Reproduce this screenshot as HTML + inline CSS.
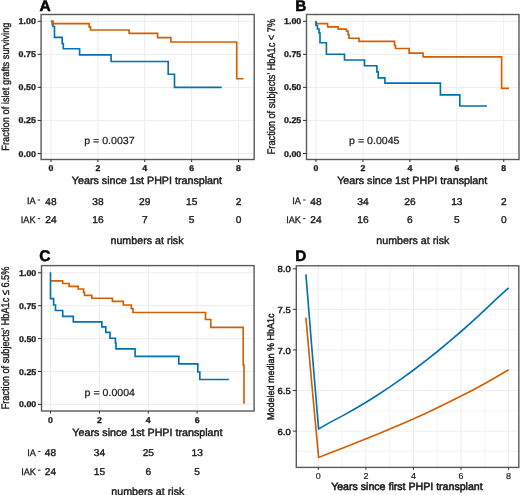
<!DOCTYPE html>
<html><head><meta charset="utf-8"><style>
html,body{margin:0;padding:0;background:#fff;}
svg{display:block;font-family:"Liberation Sans", sans-serif;filter:blur(0.15px);text-rendering:geometricPrecision;}
</style></head><body>
<svg width="520" height="495" viewBox="0 0 520 495">
<rect width="520" height="495" fill="#fff"/>
<rect x="41.1" y="14.5" width="213.1" height="145.0" fill="#fff"/>
<line x1="51.00" y1="14.50" x2="51.00" y2="159.50" stroke="#ededed" stroke-width="1.0"/>
<line x1="97.88" y1="14.50" x2="97.88" y2="159.50" stroke="#ededed" stroke-width="1.0"/>
<line x1="144.76" y1="14.50" x2="144.76" y2="159.50" stroke="#ededed" stroke-width="1.0"/>
<line x1="191.64" y1="14.50" x2="191.64" y2="159.50" stroke="#ededed" stroke-width="1.0"/>
<line x1="238.52" y1="14.50" x2="238.52" y2="159.50" stroke="#ededed" stroke-width="1.0"/>
<line x1="41.10" y1="153.50" x2="254.20" y2="153.50" stroke="#ededed" stroke-width="1.0"/>
<line x1="41.10" y1="120.45" x2="254.20" y2="120.45" stroke="#ededed" stroke-width="1.0"/>
<line x1="41.10" y1="87.40" x2="254.20" y2="87.40" stroke="#ededed" stroke-width="1.0"/>
<line x1="41.10" y1="54.35" x2="254.20" y2="54.35" stroke="#ededed" stroke-width="1.0"/>
<line x1="41.10" y1="21.30" x2="254.20" y2="21.30" stroke="#ededed" stroke-width="1.0"/>
<polyline points="50.90,21.30 52.30,21.30 52.30,24.50 53.00,24.50 53.00,26.50 54.50,26.50 54.50,37.30 62.20,37.30 62.20,43.60 63.30,43.60 63.30,48.70 79.60,48.70 79.60,54.90 111.10,54.90 111.10,61.50 168.20,61.50 168.20,74.20 174.50,74.20 174.50,87.30 221.80,87.30" fill="none" stroke="#0072B2" stroke-width="1.65" stroke-linejoin="miter" stroke-linecap="butt"/>
<polyline points="50.90,21.30 53.10,21.30 53.10,23.60 89.10,23.60 89.10,26.90 90.50,26.90 90.50,30.00 129.10,30.00 129.10,33.30 157.60,33.30 157.60,37.60 170.90,37.60 170.90,42.00 236.70,42.00 236.70,78.70 243.60,78.70" fill="none" stroke="#D55E00" stroke-width="1.65" stroke-linejoin="miter" stroke-linecap="butt"/>
<rect x="41.1" y="14.5" width="213.1" height="145.0" fill="none" stroke="#5a5a5a" stroke-width="1.4"/>
<rect x="306.5" y="14.5" width="212.5" height="145.0" fill="#fff"/>
<line x1="316.00" y1="14.50" x2="316.00" y2="159.50" stroke="#ededed" stroke-width="1.0"/>
<line x1="362.94" y1="14.50" x2="362.94" y2="159.50" stroke="#ededed" stroke-width="1.0"/>
<line x1="409.88" y1="14.50" x2="409.88" y2="159.50" stroke="#ededed" stroke-width="1.0"/>
<line x1="456.82" y1="14.50" x2="456.82" y2="159.50" stroke="#ededed" stroke-width="1.0"/>
<line x1="503.76" y1="14.50" x2="503.76" y2="159.50" stroke="#ededed" stroke-width="1.0"/>
<line x1="306.50" y1="153.50" x2="519.00" y2="153.50" stroke="#ededed" stroke-width="1.0"/>
<line x1="306.50" y1="120.45" x2="519.00" y2="120.45" stroke="#ededed" stroke-width="1.0"/>
<line x1="306.50" y1="87.40" x2="519.00" y2="87.40" stroke="#ededed" stroke-width="1.0"/>
<line x1="306.50" y1="54.35" x2="519.00" y2="54.35" stroke="#ededed" stroke-width="1.0"/>
<line x1="306.50" y1="21.30" x2="519.00" y2="21.30" stroke="#ededed" stroke-width="1.0"/>
<polyline points="316.00,21.30 316.00,23.60 327.60,23.60 327.60,26.90 338.20,26.90 338.20,29.10 346.40,29.10 346.40,31.00 348.00,31.00 348.00,34.50 349.00,34.50 349.00,38.20 359.00,38.20 359.00,41.30 394.50,41.30 394.50,45.50 395.50,45.50 395.50,48.50 409.10,48.50 409.10,53.10 423.10,53.10 423.10,56.80 501.60,56.80 501.60,88.40 509.10,88.40" fill="none" stroke="#D55E00" stroke-width="1.65" stroke-linejoin="miter" stroke-linecap="butt"/>
<polyline points="316.00,21.00 316.00,25.50 317.50,25.50 317.50,29.00 319.00,29.00 319.00,33.00 320.00,33.00 320.00,42.70 326.40,42.70 326.40,54.20 344.50,54.20 344.50,60.00 364.50,60.00 364.50,65.70 376.90,65.70 376.90,71.80 378.20,71.80 378.20,77.80 384.90,77.80 384.90,83.10 440.40,83.10 440.40,94.80 459.80,94.80 459.80,106.00 486.90,106.00" fill="none" stroke="#0072B2" stroke-width="1.65" stroke-linejoin="miter" stroke-linecap="butt"/>
<rect x="306.5" y="14.5" width="212.5" height="145.0" fill="none" stroke="#5a5a5a" stroke-width="1.4"/>
<rect x="41.5" y="265.6" width="212.6" height="145.39999999999998" fill="#fff"/>
<line x1="50.50" y1="265.60" x2="50.50" y2="411.00" stroke="#ededed" stroke-width="1.0"/>
<line x1="99.40" y1="265.60" x2="99.40" y2="411.00" stroke="#ededed" stroke-width="1.0"/>
<line x1="148.30" y1="265.60" x2="148.30" y2="411.00" stroke="#ededed" stroke-width="1.0"/>
<line x1="197.20" y1="265.60" x2="197.20" y2="411.00" stroke="#ededed" stroke-width="1.0"/>
<line x1="41.50" y1="404.40" x2="254.10" y2="404.40" stroke="#ededed" stroke-width="1.0"/>
<line x1="41.50" y1="371.50" x2="254.10" y2="371.50" stroke="#ededed" stroke-width="1.0"/>
<line x1="41.50" y1="338.60" x2="254.10" y2="338.60" stroke="#ededed" stroke-width="1.0"/>
<line x1="41.50" y1="305.70" x2="254.10" y2="305.70" stroke="#ededed" stroke-width="1.0"/>
<line x1="41.50" y1="272.80" x2="254.10" y2="272.80" stroke="#ededed" stroke-width="1.0"/>
<polyline points="50.50,280.80 62.70,280.80 62.70,283.50 69.10,283.50 69.10,286.30 78.20,286.30 78.20,289.00 83.60,289.00 83.60,292.30 84.50,292.30 84.50,295.40 91.80,295.40 91.80,298.20 112.40,298.20 112.40,301.40 123.30,301.40 123.30,305.00 131.30,305.00 131.30,308.60 133.00,308.60 133.00,312.50 205.50,312.50 205.50,319.50 210.80,319.50 210.80,327.40 243.20,327.40 243.20,365.00 244.00,365.00 244.00,403.80" fill="none" stroke="#D55E00" stroke-width="1.65" stroke-linejoin="miter" stroke-linecap="butt"/>
<polyline points="50.50,272.30 50.50,298.60 53.60,298.60 53.60,305.00 55.50,305.00 55.50,310.50 62.70,310.50 62.70,316.30 73.30,316.30 73.30,321.80 101.80,321.80 101.80,326.90 105.80,326.90 105.80,332.30 110.00,332.30 110.00,338.20 115.40,338.20 115.40,343.00 116.00,343.00 116.00,348.90 135.10,348.90 135.10,356.30 178.80,356.30 178.80,363.80 197.80,363.80 197.80,372.00 199.80,372.00 199.80,379.50 228.80,379.50" fill="none" stroke="#0072B2" stroke-width="1.65" stroke-linejoin="miter" stroke-linecap="butt"/>
<rect x="41.5" y="265.6" width="212.6" height="145.39999999999998" fill="none" stroke="#5a5a5a" stroke-width="1.4"/>
<rect x="296.3" y="265.8" width="222.49999999999994" height="201.59999999999997" fill="#fff"/>
<line x1="342.13" y1="265.80" x2="342.13" y2="467.40" stroke="#ededed" stroke-width="0.6"/>
<line x1="389.69" y1="265.80" x2="389.69" y2="467.40" stroke="#ededed" stroke-width="0.6"/>
<line x1="437.25" y1="265.80" x2="437.25" y2="467.40" stroke="#ededed" stroke-width="0.6"/>
<line x1="484.81" y1="265.80" x2="484.81" y2="467.40" stroke="#ededed" stroke-width="0.6"/>
<line x1="296.30" y1="451.39" x2="518.80" y2="451.39" stroke="#ededed" stroke-width="0.6"/>
<line x1="296.30" y1="410.81" x2="518.80" y2="410.81" stroke="#ededed" stroke-width="0.6"/>
<line x1="296.30" y1="370.24" x2="518.80" y2="370.24" stroke="#ededed" stroke-width="0.6"/>
<line x1="296.30" y1="329.66" x2="518.80" y2="329.66" stroke="#ededed" stroke-width="0.6"/>
<line x1="296.30" y1="289.09" x2="518.80" y2="289.09" stroke="#ededed" stroke-width="0.6"/>
<line x1="318.35" y1="265.80" x2="318.35" y2="467.40" stroke="#ededed" stroke-width="1.0"/>
<line x1="365.91" y1="265.80" x2="365.91" y2="467.40" stroke="#ededed" stroke-width="1.0"/>
<line x1="413.47" y1="265.80" x2="413.47" y2="467.40" stroke="#ededed" stroke-width="1.0"/>
<line x1="461.03" y1="265.80" x2="461.03" y2="467.40" stroke="#ededed" stroke-width="1.0"/>
<line x1="508.59" y1="265.80" x2="508.59" y2="467.40" stroke="#ededed" stroke-width="1.0"/>
<line x1="296.30" y1="431.10" x2="518.80" y2="431.10" stroke="#ededed" stroke-width="1.0"/>
<line x1="296.30" y1="390.53" x2="518.80" y2="390.53" stroke="#ededed" stroke-width="1.0"/>
<line x1="296.30" y1="349.95" x2="518.80" y2="349.95" stroke="#ededed" stroke-width="1.0"/>
<line x1="296.30" y1="309.38" x2="518.80" y2="309.38" stroke="#ededed" stroke-width="1.0"/>
<line x1="296.30" y1="268.80" x2="518.80" y2="268.80" stroke="#ededed" stroke-width="1.0"/>
<polyline points="305.90,317.60 312.00,386.00 318.60,457.40 330.50,452.80 342.40,448.20 354.20,443.50 366.10,438.80 378.00,433.90 389.90,429.00 401.70,423.90 413.60,418.70 425.50,413.40 437.40,407.80 449.20,402.10 461.10,396.10 473.00,389.90 484.90,383.50 496.70,376.80 508.60,369.80" fill="none" stroke="#D55E00" stroke-width="1.65" stroke-linejoin="miter" stroke-linecap="butt"/>
<polyline points="305.90,274.40 312.00,350.00 318.60,429.00 330.50,422.10 342.40,415.90 354.20,409.20 366.10,402.20 378.00,394.70 389.90,386.90 401.70,378.60 413.60,370.00 425.50,360.90 437.40,351.50 449.20,341.70 461.10,331.50 473.00,320.90 484.90,309.90 496.70,298.60 508.60,287.80" fill="none" stroke="#0072B2" stroke-width="1.65" stroke-linejoin="miter" stroke-linecap="butt"/>
<rect x="296.3" y="265.8" width="222.49999999999994" height="201.59999999999997" fill="none" stroke="#5a5a5a" stroke-width="1.4"/>
<line x1="51.00" y1="159.50" x2="51.00" y2="162.00" stroke="#333333" stroke-width="1"/>
<text transform="translate(51.00,171.40) scale(1.05,1)" text-anchor="middle" font-size="8.4" font-weight="bold" fill="#1a1a1a" stroke="#1a1a1a" stroke-width="0.3">0</text>
<line x1="97.88" y1="159.50" x2="97.88" y2="162.00" stroke="#333333" stroke-width="1"/>
<text transform="translate(97.88,171.40) scale(1.05,1)" text-anchor="middle" font-size="8.4" font-weight="bold" fill="#1a1a1a" stroke="#1a1a1a" stroke-width="0.3">2</text>
<line x1="144.76" y1="159.50" x2="144.76" y2="162.00" stroke="#333333" stroke-width="1"/>
<text transform="translate(144.76,171.40) scale(1.05,1)" text-anchor="middle" font-size="8.4" font-weight="bold" fill="#1a1a1a" stroke="#1a1a1a" stroke-width="0.3">4</text>
<line x1="191.64" y1="159.50" x2="191.64" y2="162.00" stroke="#333333" stroke-width="1"/>
<text transform="translate(191.64,171.40) scale(1.05,1)" text-anchor="middle" font-size="8.4" font-weight="bold" fill="#1a1a1a" stroke="#1a1a1a" stroke-width="0.3">6</text>
<line x1="238.52" y1="159.50" x2="238.52" y2="162.00" stroke="#333333" stroke-width="1"/>
<text transform="translate(238.52,171.40) scale(1.05,1)" text-anchor="middle" font-size="8.4" font-weight="bold" fill="#1a1a1a" stroke="#1a1a1a" stroke-width="0.3">8</text>
<line x1="37.60" y1="153.50" x2="41.10" y2="153.50" stroke="#333333" stroke-width="1"/>
<text transform="translate(35.90,156.50) scale(1.06,1)" text-anchor="end" font-size="8.4" font-weight="bold" fill="#1a1a1a" stroke="#1a1a1a" stroke-width="0.3">0.00</text>
<line x1="37.60" y1="120.45" x2="41.10" y2="120.45" stroke="#333333" stroke-width="1"/>
<text transform="translate(35.90,123.45) scale(1.06,1)" text-anchor="end" font-size="8.4" font-weight="bold" fill="#1a1a1a" stroke="#1a1a1a" stroke-width="0.3">0.25</text>
<line x1="37.60" y1="87.40" x2="41.10" y2="87.40" stroke="#333333" stroke-width="1"/>
<text transform="translate(35.90,90.40) scale(1.06,1)" text-anchor="end" font-size="8.4" font-weight="bold" fill="#1a1a1a" stroke="#1a1a1a" stroke-width="0.3">0.50</text>
<line x1="37.60" y1="54.35" x2="41.10" y2="54.35" stroke="#333333" stroke-width="1"/>
<text transform="translate(35.90,57.35) scale(1.06,1)" text-anchor="end" font-size="8.4" font-weight="bold" fill="#1a1a1a" stroke="#1a1a1a" stroke-width="0.3">0.75</text>
<line x1="37.60" y1="21.30" x2="41.10" y2="21.30" stroke="#333333" stroke-width="1"/>
<text transform="translate(35.90,24.30) scale(1.06,1)" text-anchor="end" font-size="8.4" font-weight="bold" fill="#1a1a1a" stroke="#1a1a1a" stroke-width="0.3">1.00</text>
<line x1="316.00" y1="159.50" x2="316.00" y2="162.00" stroke="#333333" stroke-width="1"/>
<text transform="translate(316.00,171.40) scale(1.05,1)" text-anchor="middle" font-size="8.4" font-weight="bold" fill="#1a1a1a" stroke="#1a1a1a" stroke-width="0.3">0</text>
<line x1="362.94" y1="159.50" x2="362.94" y2="162.00" stroke="#333333" stroke-width="1"/>
<text transform="translate(362.94,171.40) scale(1.05,1)" text-anchor="middle" font-size="8.4" font-weight="bold" fill="#1a1a1a" stroke="#1a1a1a" stroke-width="0.3">2</text>
<line x1="409.88" y1="159.50" x2="409.88" y2="162.00" stroke="#333333" stroke-width="1"/>
<text transform="translate(409.88,171.40) scale(1.05,1)" text-anchor="middle" font-size="8.4" font-weight="bold" fill="#1a1a1a" stroke="#1a1a1a" stroke-width="0.3">4</text>
<line x1="456.82" y1="159.50" x2="456.82" y2="162.00" stroke="#333333" stroke-width="1"/>
<text transform="translate(456.82,171.40) scale(1.05,1)" text-anchor="middle" font-size="8.4" font-weight="bold" fill="#1a1a1a" stroke="#1a1a1a" stroke-width="0.3">6</text>
<line x1="503.76" y1="159.50" x2="503.76" y2="162.00" stroke="#333333" stroke-width="1"/>
<text transform="translate(503.76,171.40) scale(1.05,1)" text-anchor="middle" font-size="8.4" font-weight="bold" fill="#1a1a1a" stroke="#1a1a1a" stroke-width="0.3">8</text>
<line x1="303.00" y1="153.50" x2="306.50" y2="153.50" stroke="#333333" stroke-width="1"/>
<text transform="translate(301.30,156.50) scale(1.06,1)" text-anchor="end" font-size="8.4" font-weight="bold" fill="#1a1a1a" stroke="#1a1a1a" stroke-width="0.3">0.00</text>
<line x1="303.00" y1="120.45" x2="306.50" y2="120.45" stroke="#333333" stroke-width="1"/>
<text transform="translate(301.30,123.45) scale(1.06,1)" text-anchor="end" font-size="8.4" font-weight="bold" fill="#1a1a1a" stroke="#1a1a1a" stroke-width="0.3">0.25</text>
<line x1="303.00" y1="87.40" x2="306.50" y2="87.40" stroke="#333333" stroke-width="1"/>
<text transform="translate(301.30,90.40) scale(1.06,1)" text-anchor="end" font-size="8.4" font-weight="bold" fill="#1a1a1a" stroke="#1a1a1a" stroke-width="0.3">0.50</text>
<line x1="303.00" y1="54.35" x2="306.50" y2="54.35" stroke="#333333" stroke-width="1"/>
<text transform="translate(301.30,57.35) scale(1.06,1)" text-anchor="end" font-size="8.4" font-weight="bold" fill="#1a1a1a" stroke="#1a1a1a" stroke-width="0.3">0.75</text>
<line x1="303.00" y1="21.30" x2="306.50" y2="21.30" stroke="#333333" stroke-width="1"/>
<text transform="translate(301.30,24.30) scale(1.06,1)" text-anchor="end" font-size="8.4" font-weight="bold" fill="#1a1a1a" stroke="#1a1a1a" stroke-width="0.3">1.00</text>
<line x1="50.50" y1="411.00" x2="50.50" y2="413.50" stroke="#333333" stroke-width="1"/>
<text transform="translate(50.50,422.90) scale(1.05,1)" text-anchor="middle" font-size="8.4" font-weight="bold" fill="#1a1a1a" stroke="#1a1a1a" stroke-width="0.3">0</text>
<line x1="99.40" y1="411.00" x2="99.40" y2="413.50" stroke="#333333" stroke-width="1"/>
<text transform="translate(99.40,422.90) scale(1.05,1)" text-anchor="middle" font-size="8.4" font-weight="bold" fill="#1a1a1a" stroke="#1a1a1a" stroke-width="0.3">2</text>
<line x1="148.30" y1="411.00" x2="148.30" y2="413.50" stroke="#333333" stroke-width="1"/>
<text transform="translate(148.30,422.90) scale(1.05,1)" text-anchor="middle" font-size="8.4" font-weight="bold" fill="#1a1a1a" stroke="#1a1a1a" stroke-width="0.3">4</text>
<line x1="197.20" y1="411.00" x2="197.20" y2="413.50" stroke="#333333" stroke-width="1"/>
<text transform="translate(197.20,422.90) scale(1.05,1)" text-anchor="middle" font-size="8.4" font-weight="bold" fill="#1a1a1a" stroke="#1a1a1a" stroke-width="0.3">6</text>
<line x1="38.00" y1="404.40" x2="41.50" y2="404.40" stroke="#333333" stroke-width="1"/>
<text transform="translate(36.30,407.40) scale(1.06,1)" text-anchor="end" font-size="8.4" font-weight="bold" fill="#1a1a1a" stroke="#1a1a1a" stroke-width="0.3">0.00</text>
<line x1="38.00" y1="371.50" x2="41.50" y2="371.50" stroke="#333333" stroke-width="1"/>
<text transform="translate(36.30,374.50) scale(1.06,1)" text-anchor="end" font-size="8.4" font-weight="bold" fill="#1a1a1a" stroke="#1a1a1a" stroke-width="0.3">0.25</text>
<line x1="38.00" y1="338.60" x2="41.50" y2="338.60" stroke="#333333" stroke-width="1"/>
<text transform="translate(36.30,341.60) scale(1.06,1)" text-anchor="end" font-size="8.4" font-weight="bold" fill="#1a1a1a" stroke="#1a1a1a" stroke-width="0.3">0.50</text>
<line x1="38.00" y1="305.70" x2="41.50" y2="305.70" stroke="#333333" stroke-width="1"/>
<text transform="translate(36.30,308.70) scale(1.06,1)" text-anchor="end" font-size="8.4" font-weight="bold" fill="#1a1a1a" stroke="#1a1a1a" stroke-width="0.3">0.75</text>
<line x1="38.00" y1="272.80" x2="41.50" y2="272.80" stroke="#333333" stroke-width="1"/>
<text transform="translate(36.30,275.80) scale(1.06,1)" text-anchor="end" font-size="8.4" font-weight="bold" fill="#1a1a1a" stroke="#1a1a1a" stroke-width="0.3">1.00</text>
<line x1="318.35" y1="467.40" x2="318.35" y2="469.90" stroke="#333333" stroke-width="1"/>
<text transform="translate(318.35,479.00) scale(1.05,1)" text-anchor="middle" font-size="8.6" font-weight="normal" fill="#1a1a1a" stroke="#1a1a1a" stroke-width="0.15">0</text>
<line x1="365.91" y1="467.40" x2="365.91" y2="469.90" stroke="#333333" stroke-width="1"/>
<text transform="translate(365.91,479.00) scale(1.05,1)" text-anchor="middle" font-size="8.6" font-weight="normal" fill="#1a1a1a" stroke="#1a1a1a" stroke-width="0.15">2</text>
<line x1="413.47" y1="467.40" x2="413.47" y2="469.90" stroke="#333333" stroke-width="1"/>
<text transform="translate(413.47,479.00) scale(1.05,1)" text-anchor="middle" font-size="8.6" font-weight="normal" fill="#1a1a1a" stroke="#1a1a1a" stroke-width="0.15">4</text>
<line x1="461.03" y1="467.40" x2="461.03" y2="469.90" stroke="#333333" stroke-width="1"/>
<text transform="translate(461.03,479.00) scale(1.05,1)" text-anchor="middle" font-size="8.6" font-weight="normal" fill="#1a1a1a" stroke="#1a1a1a" stroke-width="0.15">6</text>
<line x1="508.59" y1="467.40" x2="508.59" y2="469.90" stroke="#333333" stroke-width="1"/>
<text transform="translate(508.59,479.00) scale(1.05,1)" text-anchor="middle" font-size="8.6" font-weight="normal" fill="#1a1a1a" stroke="#1a1a1a" stroke-width="0.15">8</text>
<line x1="292.80" y1="431.10" x2="296.30" y2="431.10" stroke="#333333" stroke-width="1"/>
<text transform="translate(290.80,434.70) scale(1.08,1)" text-anchor="end" font-size="8.8" font-weight="normal" fill="#1a1a1a" stroke="#1a1a1a" stroke-width="0.45">6.0</text>
<line x1="292.80" y1="390.53" x2="296.30" y2="390.53" stroke="#333333" stroke-width="1"/>
<text transform="translate(290.80,394.13) scale(1.08,1)" text-anchor="end" font-size="8.8" font-weight="normal" fill="#1a1a1a" stroke="#1a1a1a" stroke-width="0.45">6.5</text>
<line x1="292.80" y1="349.95" x2="296.30" y2="349.95" stroke="#333333" stroke-width="1"/>
<text transform="translate(290.80,353.55) scale(1.08,1)" text-anchor="end" font-size="8.8" font-weight="normal" fill="#1a1a1a" stroke="#1a1a1a" stroke-width="0.45">7.0</text>
<line x1="292.80" y1="309.38" x2="296.30" y2="309.38" stroke="#333333" stroke-width="1"/>
<text transform="translate(290.80,312.98) scale(1.08,1)" text-anchor="end" font-size="8.8" font-weight="normal" fill="#1a1a1a" stroke="#1a1a1a" stroke-width="0.45">7.5</text>
<line x1="292.80" y1="268.80" x2="296.30" y2="268.80" stroke="#333333" stroke-width="1"/>
<text transform="translate(290.80,272.40) scale(1.08,1)" text-anchor="end" font-size="8.8" font-weight="normal" fill="#1a1a1a" stroke="#1a1a1a" stroke-width="0.45">8.0</text>
<text transform="translate(45.20,11.20) scale(1.02,1)" text-anchor="middle" font-size="15.3" font-weight="bold" fill="#000" stroke="#000" stroke-width="0.5">A</text>
<text transform="translate(300.80,11.20) scale(1.0,1)" text-anchor="middle" font-size="15.3" font-weight="bold" fill="#000" stroke="#000" stroke-width="0.5">B</text>
<text transform="translate(44.90,260.80) scale(1.02,1)" text-anchor="middle" font-size="15.3" font-weight="bold" fill="#000" stroke="#000" stroke-width="0.5">C</text>
<text transform="translate(300.80,260.80) scale(1.0,1)" text-anchor="middle" font-size="15.3" font-weight="bold" fill="#000" stroke="#000" stroke-width="0.5">D</text>
<text transform="translate(146.90,184.00) scale(1.01,1)" text-anchor="middle" font-size="10.6" font-weight="normal" fill="#1a1a1a" stroke="#1a1a1a" stroke-width="0.45">Years since 1st PHPI transplant</text>
<text transform="translate(412.20,184.00) scale(1.01,1)" text-anchor="middle" font-size="10.6" font-weight="normal" fill="#1a1a1a" stroke="#1a1a1a" stroke-width="0.45">Years since 1st PHPI transplant</text>
<text transform="translate(147.40,435.60) scale(1.01,1)" text-anchor="middle" font-size="10.6" font-weight="normal" fill="#1a1a1a" stroke="#1a1a1a" stroke-width="0.45">Years since 1st PHPI transplant</text>
<text transform="translate(406.90,490.40) scale(1.0,1)" text-anchor="middle" font-size="10.6" font-weight="normal" fill="#1a1a1a" stroke="#1a1a1a" stroke-width="0.55">Years since first PHPI transplant</text>
<text transform="translate(8.90,86.60) rotate(-90) scale(1,1.12)" text-anchor="middle" font-size="9.3" font-weight="normal" fill="#1a1a1a" stroke="#1a1a1a" stroke-width="0.3">Fraction of islet grafts surviving</text>
<text transform="translate(274.70,86.60) rotate(-90) scale(1,1.2)" text-anchor="middle" font-size="9.2" font-weight="normal" fill="#1a1a1a" stroke="#1a1a1a" stroke-width="0.3">Fraction of subjects' HbA1c &lt; 7%</text>
<text transform="translate(9.10,338.00) rotate(-90) scale(1,1.2)" text-anchor="middle" font-size="9.2" font-weight="normal" fill="#1a1a1a" stroke="#1a1a1a" stroke-width="0.3">Fraction of subjects' HbA1c ≤ 6.5%</text>
<text transform="translate(273.80,366.80) rotate(-90) scale(1,1.08)" text-anchor="middle" font-size="9.0" font-weight="normal" fill="#1a1a1a" stroke="#1a1a1a" stroke-width="0.4">Modeled median % HbA1c</text>
<text transform="translate(84.20,144.30) scale(1.04,1)" text-anchor="start" font-size="10.2" font-weight="normal" fill="#1a1a1a" stroke="#1a1a1a" stroke-width="0.22">p = 0.0037</text>
<text transform="translate(349.10,144.30) scale(1.04,1)" text-anchor="start" font-size="10.2" font-weight="normal" fill="#1a1a1a" stroke="#1a1a1a" stroke-width="0.22">p = 0.0045</text>
<text transform="translate(84.60,396.30) scale(1.04,1)" text-anchor="start" font-size="10.2" font-weight="normal" fill="#1a1a1a" stroke="#1a1a1a" stroke-width="0.22">p = 0.0004</text>
<text transform="translate(51.00,204.70) scale(1.03,1)" text-anchor="middle" font-size="9.9" font-weight="normal" fill="#1a1a1a" stroke="#1a1a1a" stroke-width="0.35">48</text>
<text transform="translate(51.00,223.30) scale(1.03,1)" text-anchor="middle" font-size="9.9" font-weight="normal" fill="#1a1a1a" stroke="#1a1a1a" stroke-width="0.35">24</text>
<text transform="translate(97.88,204.70) scale(1.03,1)" text-anchor="middle" font-size="9.9" font-weight="normal" fill="#1a1a1a" stroke="#1a1a1a" stroke-width="0.35">38</text>
<text transform="translate(97.88,223.30) scale(1.03,1)" text-anchor="middle" font-size="9.9" font-weight="normal" fill="#1a1a1a" stroke="#1a1a1a" stroke-width="0.35">16</text>
<text transform="translate(144.76,204.70) scale(1.03,1)" text-anchor="middle" font-size="9.9" font-weight="normal" fill="#1a1a1a" stroke="#1a1a1a" stroke-width="0.35">29</text>
<text transform="translate(144.76,223.30) scale(1.03,1)" text-anchor="middle" font-size="9.9" font-weight="normal" fill="#1a1a1a" stroke="#1a1a1a" stroke-width="0.35">7</text>
<text transform="translate(191.64,204.70) scale(1.03,1)" text-anchor="middle" font-size="9.9" font-weight="normal" fill="#1a1a1a" stroke="#1a1a1a" stroke-width="0.35">15</text>
<text transform="translate(191.64,223.30) scale(1.03,1)" text-anchor="middle" font-size="9.9" font-weight="normal" fill="#1a1a1a" stroke="#1a1a1a" stroke-width="0.35">5</text>
<text transform="translate(238.52,204.70) scale(1.03,1)" text-anchor="middle" font-size="9.9" font-weight="normal" fill="#1a1a1a" stroke="#1a1a1a" stroke-width="0.35">2</text>
<text transform="translate(238.52,223.30) scale(1.03,1)" text-anchor="middle" font-size="9.9" font-weight="normal" fill="#1a1a1a" stroke="#1a1a1a" stroke-width="0.35">0</text>
<text transform="translate(35.50,204.20) scale(0.95,1)" text-anchor="end" font-size="9.6" font-weight="normal" fill="#1a1a1a" stroke="#1a1a1a" stroke-width="0.3">IA</text>
<text transform="translate(35.50,223.00) scale(0.95,1)" text-anchor="end" font-size="9.6" font-weight="normal" fill="#1a1a1a" stroke="#1a1a1a" stroke-width="0.3">IAK</text>
<line x1="37.70" y1="200.00" x2="40.10" y2="200.00" stroke="#333" stroke-width="1.1"/>
<line x1="37.70" y1="218.60" x2="40.10" y2="218.60" stroke="#333" stroke-width="1.1"/>
<text transform="translate(147.00,243.50) scale(1.01,1)" text-anchor="middle" font-size="10.6" font-weight="normal" fill="#1a1a1a" stroke="#1a1a1a" stroke-width="0.4">numbers at risk</text>
<text transform="translate(316.00,204.70) scale(1.03,1)" text-anchor="middle" font-size="9.9" font-weight="normal" fill="#1a1a1a" stroke="#1a1a1a" stroke-width="0.35">48</text>
<text transform="translate(316.00,223.30) scale(1.03,1)" text-anchor="middle" font-size="9.9" font-weight="normal" fill="#1a1a1a" stroke="#1a1a1a" stroke-width="0.35">24</text>
<text transform="translate(362.94,204.70) scale(1.03,1)" text-anchor="middle" font-size="9.9" font-weight="normal" fill="#1a1a1a" stroke="#1a1a1a" stroke-width="0.35">34</text>
<text transform="translate(362.94,223.30) scale(1.03,1)" text-anchor="middle" font-size="9.9" font-weight="normal" fill="#1a1a1a" stroke="#1a1a1a" stroke-width="0.35">16</text>
<text transform="translate(409.88,204.70) scale(1.03,1)" text-anchor="middle" font-size="9.9" font-weight="normal" fill="#1a1a1a" stroke="#1a1a1a" stroke-width="0.35">26</text>
<text transform="translate(409.88,223.30) scale(1.03,1)" text-anchor="middle" font-size="9.9" font-weight="normal" fill="#1a1a1a" stroke="#1a1a1a" stroke-width="0.35">6</text>
<text transform="translate(456.82,204.70) scale(1.03,1)" text-anchor="middle" font-size="9.9" font-weight="normal" fill="#1a1a1a" stroke="#1a1a1a" stroke-width="0.35">13</text>
<text transform="translate(456.82,223.30) scale(1.03,1)" text-anchor="middle" font-size="9.9" font-weight="normal" fill="#1a1a1a" stroke="#1a1a1a" stroke-width="0.35">5</text>
<text transform="translate(503.76,204.70) scale(1.03,1)" text-anchor="middle" font-size="9.9" font-weight="normal" fill="#1a1a1a" stroke="#1a1a1a" stroke-width="0.35">2</text>
<text transform="translate(503.76,223.30) scale(1.03,1)" text-anchor="middle" font-size="9.9" font-weight="normal" fill="#1a1a1a" stroke="#1a1a1a" stroke-width="0.35">0</text>
<text transform="translate(300.90,204.20) scale(0.95,1)" text-anchor="end" font-size="9.6" font-weight="normal" fill="#1a1a1a" stroke="#1a1a1a" stroke-width="0.3">IA</text>
<text transform="translate(300.90,223.00) scale(0.95,1)" text-anchor="end" font-size="9.6" font-weight="normal" fill="#1a1a1a" stroke="#1a1a1a" stroke-width="0.3">IAK</text>
<line x1="303.10" y1="200.00" x2="305.50" y2="200.00" stroke="#333" stroke-width="1.1"/>
<line x1="303.10" y1="218.60" x2="305.50" y2="218.60" stroke="#333" stroke-width="1.1"/>
<text transform="translate(412.80,243.50) scale(1.01,1)" text-anchor="middle" font-size="10.6" font-weight="normal" fill="#1a1a1a" stroke="#1a1a1a" stroke-width="0.4">numbers at risk</text>
<text transform="translate(50.50,456.20) scale(1.03,1)" text-anchor="middle" font-size="9.9" font-weight="normal" fill="#1a1a1a" stroke="#1a1a1a" stroke-width="0.35">48</text>
<text transform="translate(50.50,474.80) scale(1.03,1)" text-anchor="middle" font-size="9.9" font-weight="normal" fill="#1a1a1a" stroke="#1a1a1a" stroke-width="0.35">24</text>
<text transform="translate(99.40,456.20) scale(1.03,1)" text-anchor="middle" font-size="9.9" font-weight="normal" fill="#1a1a1a" stroke="#1a1a1a" stroke-width="0.35">34</text>
<text transform="translate(99.40,474.80) scale(1.03,1)" text-anchor="middle" font-size="9.9" font-weight="normal" fill="#1a1a1a" stroke="#1a1a1a" stroke-width="0.35">15</text>
<text transform="translate(148.30,456.20) scale(1.03,1)" text-anchor="middle" font-size="9.9" font-weight="normal" fill="#1a1a1a" stroke="#1a1a1a" stroke-width="0.35">25</text>
<text transform="translate(148.30,474.80) scale(1.03,1)" text-anchor="middle" font-size="9.9" font-weight="normal" fill="#1a1a1a" stroke="#1a1a1a" stroke-width="0.35">6</text>
<text transform="translate(197.20,456.20) scale(1.03,1)" text-anchor="middle" font-size="9.9" font-weight="normal" fill="#1a1a1a" stroke="#1a1a1a" stroke-width="0.35">13</text>
<text transform="translate(197.20,474.80) scale(1.03,1)" text-anchor="middle" font-size="9.9" font-weight="normal" fill="#1a1a1a" stroke="#1a1a1a" stroke-width="0.35">5</text>
<text transform="translate(35.90,455.70) scale(0.95,1)" text-anchor="end" font-size="9.6" font-weight="normal" fill="#1a1a1a" stroke="#1a1a1a" stroke-width="0.3">IA</text>
<text transform="translate(35.90,474.50) scale(0.95,1)" text-anchor="end" font-size="9.6" font-weight="normal" fill="#1a1a1a" stroke="#1a1a1a" stroke-width="0.3">IAK</text>
<line x1="38.10" y1="451.50" x2="40.50" y2="451.50" stroke="#333" stroke-width="1.1"/>
<line x1="38.10" y1="470.10" x2="40.50" y2="470.10" stroke="#333" stroke-width="1.1"/>
<text transform="translate(147.80,495.00) scale(1.01,1)" text-anchor="middle" font-size="10.6" font-weight="normal" fill="#1a1a1a" stroke="#1a1a1a" stroke-width="0.4">numbers at risk</text>
</svg></body></html>
